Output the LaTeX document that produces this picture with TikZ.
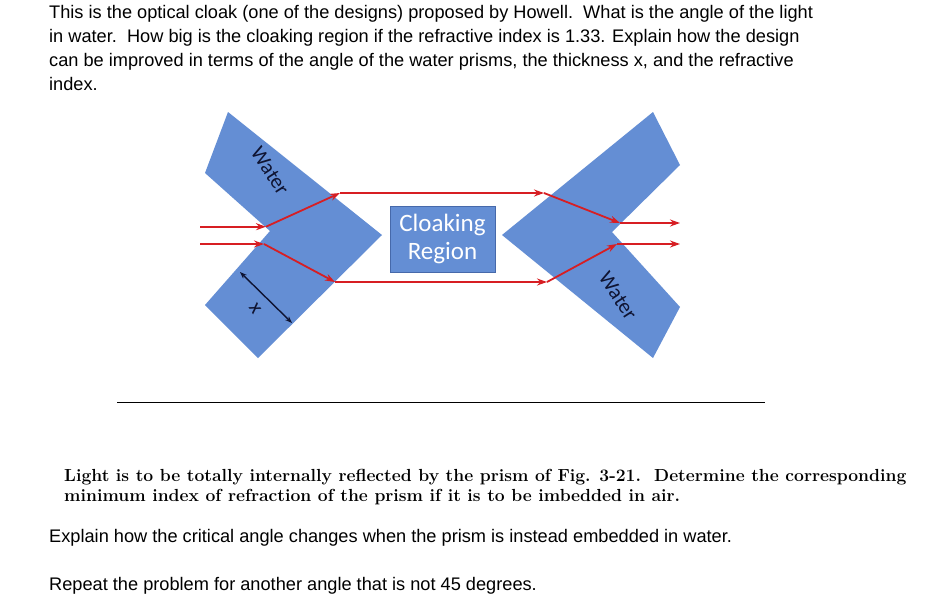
\documentclass[tikz,border=0pt]{standalone}
\usepackage{fontspec}
\usetikzlibrary{arrows.meta}
\setmainfont{Liberation Sans}
\newfontfamily\lmbold{Latin Modern Roman}
\newfontfamily\calib{Carlito}
\begin{document}
\begin{tikzpicture}[x=1pt,y=-1pt,
  prism/.style={fill=prismblue,draw=none},
  ray/.style={draw=rayred,line width=1.8pt,-{Stealth[length=10pt,width=7pt]}},
  txt/.style={anchor=base west,inner sep=0pt,font=\fontsize{18.2}{22}\selectfont},
  btxt/.style={anchor=base west,inner sep=0pt,font=\lmbold\bfseries\fontsize{17.5}{20}\selectfont},
  lbl/.style={font=\calib\fontsize{21}{22}\selectfont,text=navy,inner sep=0pt}]
\definecolor{prismblue}{RGB}{100,142,212}
\definecolor{boxedge}{RGB}{70,105,170}
\definecolor{rayred}{RGB}{215,30,35}
\definecolor{navy}{RGB}{15,20,50}
\useasboundingbox (0,0) rectangle (930,608);
\fill[white] (0,0) rectangle (930,608);
\node[txt] (t1) at (49,18) {This is the optical cloak (one of the designs) proposed by Howell.\ \ What is the angle of the light};
\node[txt] (t2) at (49,42) {in water.\ \ How big is the cloaking region if the refractive index is 1.33. Explain how the design};
\node[txt] (t3) at (49,66) {can be improved in terms of the angle of the water prisms, the thickness x, and the refractive};
\node[txt] (t4) at (49,90) {index.};
% prisms
\fill[prism] (228,112) -- (382,235) -- (258,358) -- (205,305) -- (270,231) -- (205,173) -- cycle;
\fill[prism] (653,112) -- (680,165) -- (612,232) -- (680,307) -- (653,358) -- (502,235) -- cycle;
\node[draw=boxedge,line width=1pt,fill=prismblue,minimum width=105pt,minimum height=66pt,inner sep=0pt,
  font=\calib\fontsize{25}{28}\selectfont,text=white,align=center] (cloak) at (442.5,239) {Cloaking\\Region};
\node[lbl,rotate=-57] (w1) at (270,171) {Water};
\node[lbl,rotate=-57] (w2) at (618,296) {Water};
% rays
\coordinate (a0) at (200,226.7); \coordinate (a1) at (266,226.7);
\coordinate (a2) at (340,193); \coordinate (a3) at (544,193);
\coordinate (a4) at (620,223); \coordinate (a5) at (680,223);
\coordinate (b0) at (200,244); \coordinate (b1) at (264,244);
\coordinate (b2) at (335,282); \coordinate (b3) at (547,282);
\coordinate (b4) at (617,244); \coordinate (b5) at (680,244);
\draw[ray] (a0) -- (a1); \draw[ray] (a1) -- (a2); \draw[ray] (a2) -- (a3); \draw[ray] (a3) -- (a4); \draw[ray] (a4) -- (a5);
\draw[ray] (b0) -- (b1); \draw[ray] (b1) -- (b2); \draw[ray] (b2) -- (b3); \draw[ray] (b3) -- (b4); \draw[ray] (b4) -- (b5);
% thickness
\coordinate (x0) at (240,272); \coordinate (x1) at (292,323);
\draw[navy,line width=1.4pt,{Stealth[length=7pt]}-{Stealth[length=7pt]}] (x0) -- (x1);
\node[lbl,rotate=-57] (xl) at (255,309) {x};
% rule
\draw[line width=0.8pt] (117,402) -- (765,402);
\node[btxt] (b1t) at (64,481) {Light is to be totally internally reflected by the prism of Fig. 3-21.\ \ Determine the corresponding};
\node[btxt] (b2t) at (64,501) {minimum index of refraction of the prism if it is to be imbedded in air.};
\node[txt] (e1) at (49,542) {Explain how the critical angle changes when the prism is instead embedded in water.};
\node[txt] (e2) at (49,590) {Repeat the problem for another angle that is not 45 degrees.};
\end{tikzpicture}
\end{document}
